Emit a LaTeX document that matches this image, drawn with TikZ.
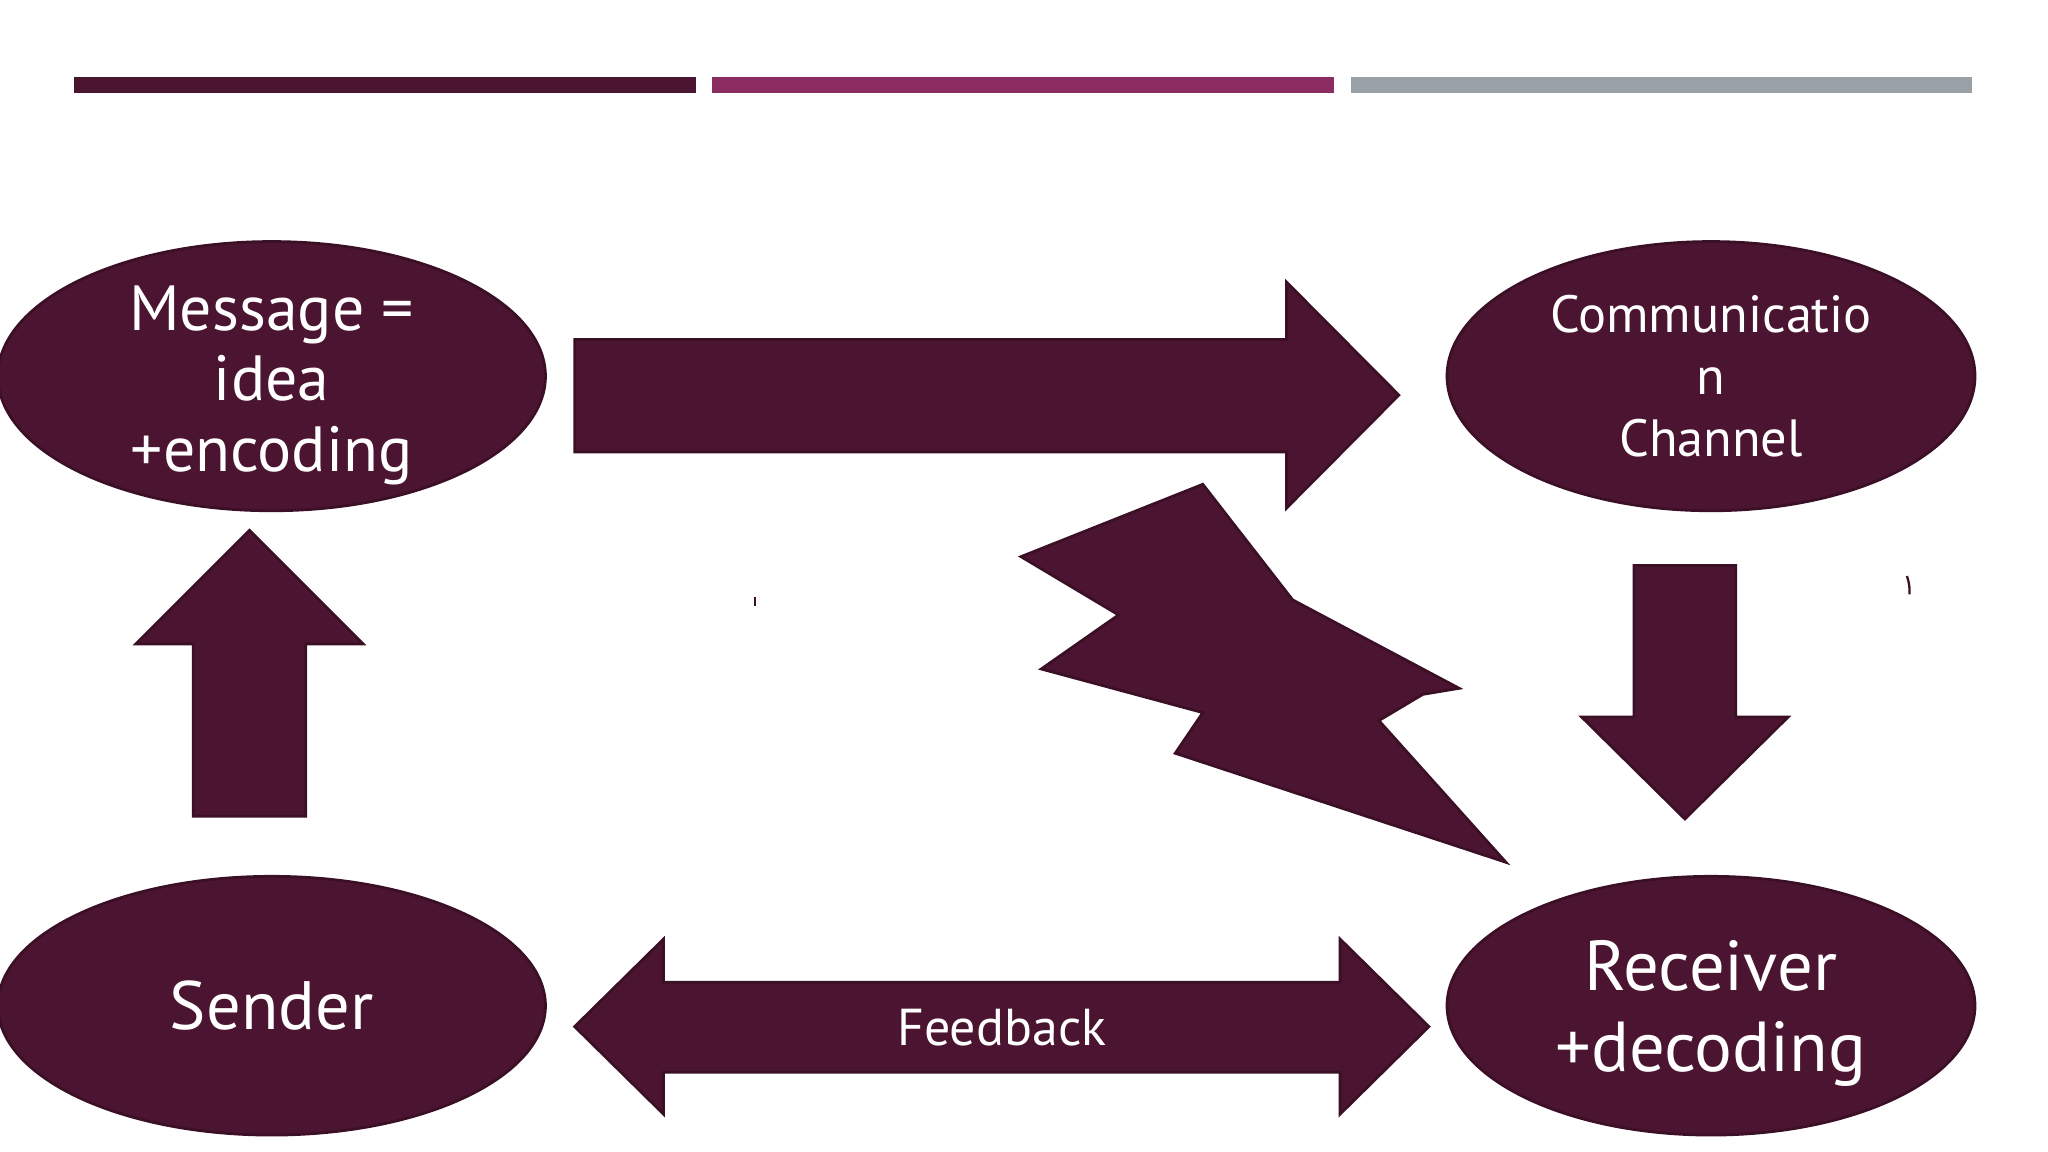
\documentclass[tikz,border=0pt]{standalone}
\usepackage{fontspec}
\setmainfont{PT Sans}[Ligatures=NoCommon]
\usetikzlibrary{shapes.geometric}
\definecolor{wine}{HTML}{4B1531}
\definecolor{wineline}{HTML}{3B0F25}
\definecolor{plum}{HTML}{8C2D62}
\definecolor{slate}{HTML}{9AA1A6}
\tikzset{
  bubble/.style={ellipse, fill=wine, draw=wineline, line width=0.6pt, inner sep=0pt},
  bubtext/.style={text=white, align=center, inner sep=0pt},
  blockarrow/.style={fill=wine, draw=wineline, line width=0.6pt, line join=miter},
}
\begin{document}
\begin{tikzpicture}[x=0.01cm,y=-0.01cm]
\useasboundingbox (0,0) rectangle (1568,882);

% top bars
\fill[wine] (57,59) rectangle (533,71);
\fill[plum] (545,59) rectangle (1021,71);
\fill[slate] (1034,59) rectangle (1510,71);

% ellipses
\node[bubble, minimum width=4.19cm, minimum height=2.06cm] (msg) at (208,288) {};
\node[bubble, minimum width=4.04cm, minimum height=2.06cm] (chan) at (1310,288) {};
\node[bubble, minimum width=4.19cm, minimum height=1.98cm] (send) at (208,770) {};
\node[bubble, minimum width=4.04cm, minimum height=1.98cm] (recv) at (1310,770) {};
\node[bubtext, font=\fontsize{13.9}{15.4}\selectfont] (msgtext) at ([yshift=-0.07cm]msg.center) {Message =\\idea\\+encoding};
\node[bubtext, font=\fontsize{11.4}{13.4}\selectfont] (chantext) at (chan.center) {Communicatio\\n\\Channel};
\node[bubtext, font=\fontsize{14.9}{17.6}\selectfont] (sendtext) at (send.center) {Sender};
\node[bubtext, font=\fontsize{15.4}{17.6}\selectfont] (recvtext) at ([yshift=-0.06cm]recv.center) {Receiver\\+decoding};

% message -> channel
\draw[blockarrow] (440,260) -- (985,260) -- (985,216) -- (1071,302.5) -- (985,389) -- (985,346) -- (440,346) -- cycle;
% sender -> message
\draw[blockarrow] (148,625) -- (148,493) -- (104,493) -- (191,406) -- (278,493) -- (234,493) -- (234,625) -- cycle;
% channel -> receiver
\draw[blockarrow] (1251,433) -- (1329,433) -- (1329,549) -- (1369,549) -- (1290,627) -- (1211,549) -- (1251,549) -- cycle;
% feedback
\draw[blockarrow] (440,786) -- (508,719) -- (508,752) -- (1026,752) -- (1026,719) -- (1094,786) -- (1026,853) -- (1026,821) -- (508,821) -- (508,853) -- cycle;
\node[bubtext, font=\fontsize{11.3}{12}\selectfont] (fb) at (767,787) {Feedback};

% noise
\draw[blockarrow] (781.7,426.2) -- (920.9,370.8) -- (989.7,459.3) -- (1117.2,527.0) -- (1089.4,531.6) -- (1055.7,551.7) -- (1153.0,660.2) -- (899.8,576.7) -- (920.9,545.6) -- (797.2,512.2) -- (856.4,470.8) -- cycle;

% stray marks
\draw[wineline, line width=0.5pt] (578,457) -- (578,464);
\draw[wineline, line width=0.5pt] (1460,441) to[bend left=10] (1462,455);
\end{tikzpicture}
\end{document}
